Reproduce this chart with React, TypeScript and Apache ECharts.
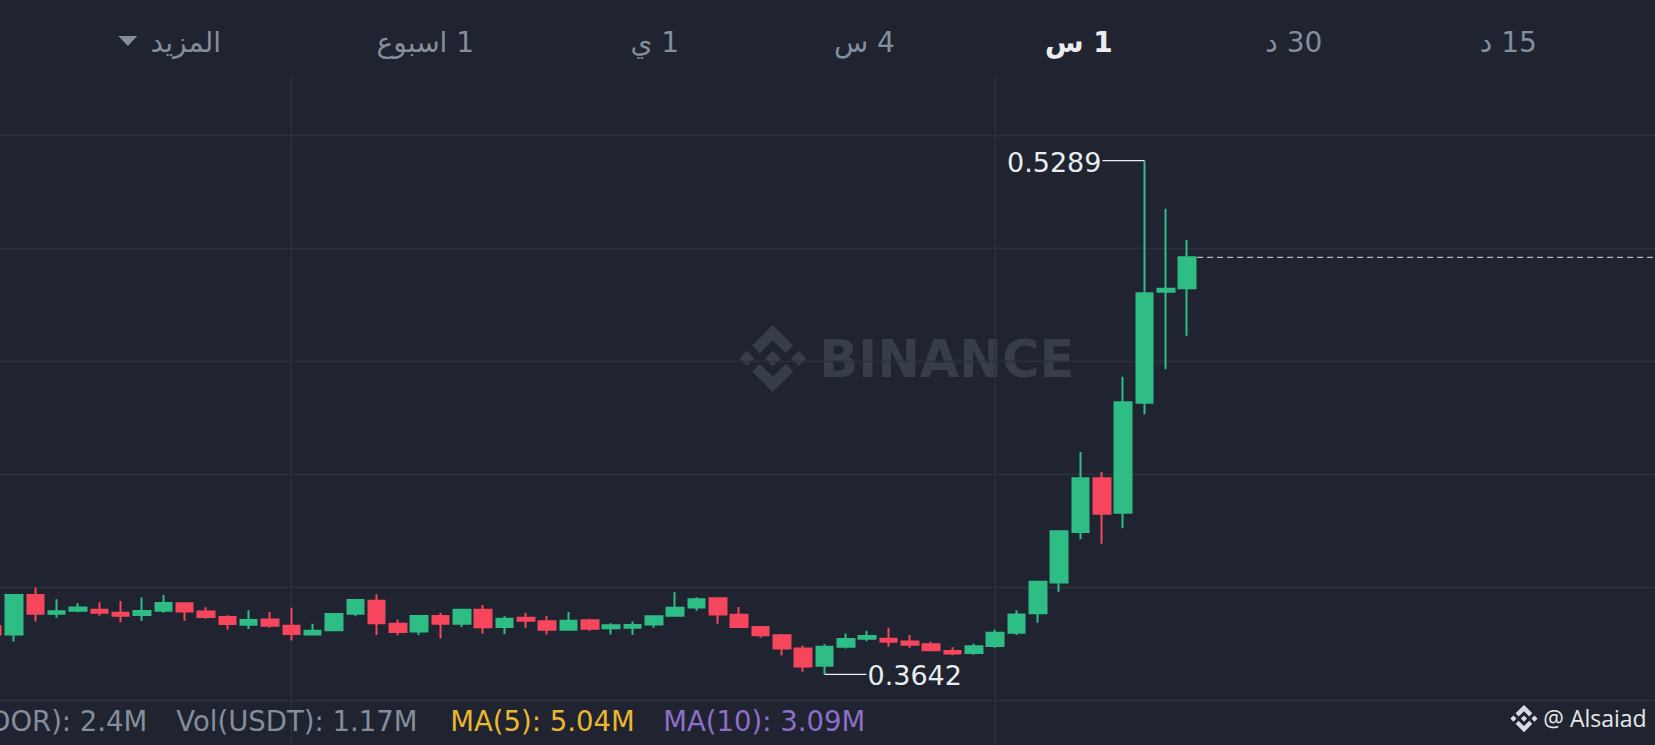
import React, { useEffect, useRef } from "react";
import * as echarts from "echarts";

// ---- data (1h candles) ----
const opens = [
  0.3797, 0.377, 0.3896, 0.3836, 0.3846, 0.3849, 0.3839, 0.3832, 0.3846, 0.387,
  0.3843, 0.3826, 0.3801, 0.3818, 0.3798, 0.377, 0.3783, 0.3836, 0.3878, 0.3804,
  0.3779, 0.3829, 0.3804, 0.3849, 0.3794, 0.3823, 0.3812, 0.3785, 0.3815, 0.379,
  0.3791, 0.3802, 0.383, 0.3856, 0.3886, 0.3833, 0.3794, 0.3767, 0.3725, 0.3669,
  0.373, 0.3756, 0.3756, 0.3747, 0.3738, 0.3717, 0.371, 0.3733, 0.3775, 0.3838,
  0.3936, 0.4098, 0.4271, 0.416, 0.4513, 0.4869, 0.488,
];
const closes = [
  0.377, 0.3896, 0.3836, 0.3844, 0.3856, 0.3839, 0.383, 0.3845, 0.3871, 0.3843,
  0.3826, 0.3803, 0.3816, 0.3798, 0.3771, 0.3782, 0.3835, 0.388, 0.3806, 0.3778,
  0.3829, 0.3804, 0.3849, 0.3793, 0.382, 0.3814, 0.3785, 0.3814, 0.3788, 0.3799,
  0.38, 0.3828, 0.3855, 0.3883, 0.3834, 0.3794, 0.3767, 0.3725, 0.3667, 0.373,
  0.3755, 0.3765, 0.3746, 0.3737, 0.3719, 0.3709, 0.3732, 0.3775, 0.3834, 0.3939,
  0.4101, 0.4271, 0.4157, 0.4514, 0.4864, 0.4878, 0.4979,
];
const highs = [
  0.381, 0.3897, 0.392, 0.3883, 0.3871, 0.3873, 0.3877, 0.3888, 0.3896, 0.3872,
  0.3857, 0.3831, 0.3847, 0.3842, 0.3855, 0.3804, 0.3838, 0.3883, 0.3899, 0.3818,
  0.3832, 0.3839, 0.3851, 0.3864, 0.3828, 0.3839, 0.3829, 0.3842, 0.382, 0.3806,
  0.3811, 0.383, 0.3905, 0.3889, 0.3889, 0.3858, 0.3796, 0.3771, 0.3734, 0.3738,
  0.3773, 0.3782, 0.3791, 0.3768, 0.3746, 0.3729, 0.374, 0.3785, 0.3847, 0.3941,
  0.4102, 0.4355, 0.4291, 0.4596, 0.5289, 0.5135, 0.5035,
];
const lows = [
  0.3762, 0.3747, 0.3811, 0.3823, 0.3841, 0.383, 0.3809, 0.3813, 0.3839, 0.3814,
  0.382, 0.3786, 0.3787, 0.3791, 0.375, 0.3769, 0.3782, 0.3828, 0.3768, 0.3767,
  0.3768, 0.3757, 0.3794, 0.3772, 0.3771, 0.3791, 0.377, 0.3784, 0.3781, 0.377,
  0.3768, 0.3791, 0.3829, 0.3846, 0.3804, 0.3793, 0.3759, 0.3702, 0.365, 0.3642,
  0.3725, 0.3748, 0.373, 0.3727, 0.3718, 0.3703, 0.3705, 0.3727, 0.3768, 0.3807,
  0.3907, 0.4075, 0.4061, 0.411, 0.4476, 0.462, 0.4728,
];
const EMPTY_SLOTS = 22; // future space on the right
const categories = [...opens, ...new Array(EMPTY_SLOTS).fill(0)].map((_, i) => String(i));
const verticalGridAt = [14, 47];

const tabs = ["15 د", "30 د", "1 س", "4 س", "1 ي", "1 اسبوع", "المزيد"];
const activeTab = "1 س";
const volumeTexts = ["Vol(DOR): 2.4M", "Vol(USDT): 1.17M", "MA(5): 5.04M", "MA(10): 3.09M"];
const watermark = "BINANCE";
const author = "@ Alsaiad";

// ---- styles / layout ----
const BG = "#1f2430";
const GRID = "#2c323d";
const UP = "#2ebd85";
const DOWN = "#f6465d";
const GRAY = "#848e9c";
const WHITE = "#eaecef";
const WM = "#373d49";

const PAGE_W = 1655;
const PAGE_H = 745;
const OFF_L = 18.333; // chart canvas starts left of the page so the first candle is cut
const OFF_R = 12;
const CHART_W = PAGE_W + OFF_L + OFF_R;
const X = (x: number) => x + OFF_L; // page x -> chart x

const LOGO_D =
  "M38.73 53.2L63.3 28.62L87.89 53.21L102.19 38.91L63.3 0L24.42 38.88Z " +
  "M0 63.31L14.3 49.01L28.6 63.31L14.3 77.61Z " +
  "M38.73 73.41L63.3 98L87.89 73.4L102.19 87.69L63.3 126.61L24.42 87.73Z " +
  "M98 63.31L112.3 49.01L126.6 63.31L112.3 77.61Z " +
  "M77.83 63.3L63.3 48.78L48.78 63.3L63.3 77.83Z";
try {
  echarts.graphic.registerShape("binanceLogo", echarts.graphic.extendPath(LOGO_D, {}));
} catch (e) {
  /* already registered */
}

const RLE = "\u202B";
const PDF = "\u202C";

export default function App() {
  const ref = useRef<HTMLDivElement>(null);

  useEffect(() => {
    document.documentElement.style.overflow = "hidden";
    document.body.style.margin = "0";
    document.body.style.overflow = "hidden";
    document.body.style.background = BG;
    const chart = echarts.init(ref.current!, null, { renderer: "svg" });

    const data = opens.map((o, i) => [o, closes[i], lows[i], highs[i]]);

    chart.setOption({
      animation: false,
      backgroundColor: BG,
      grid: [
        { left: 0, right: 0, top: 76, bottom: 0 },
        { left: 0, right: 0, top: 135, bottom: 45 },
      ],
      xAxis: [
        { type: "category", gridIndex: 0, data: categories, show: false, boundaryGap: true },
        { type: "value", gridIndex: 1, show: false, min: 0, max: 1 },
      ],
      yAxis: [
        { type: "value", gridIndex: 0, show: false, scale: true, min: 0.341526, max: 0.556061 },
        {
          type: "value",
          gridIndex: 1,
          min: 0,
          max: 5,
          interval: 1,
          axisLine: { show: false },
          axisTick: { show: false },
          axisLabel: { show: false },
          splitLine: { show: true, lineStyle: { color: GRID, width: 1.3 } },
        },
      ],
      series: [
        {
          type: "candlestick",
          xAxisIndex: 0,
          yAxisIndex: 0,
          data,
          barWidth: 17,
          z: 3,
          itemStyle: {
            color: UP,
            color0: DOWN,
            borderColor: UP,
            borderColor0: DOWN,
            borderWidth: 2,
          },
        },
      ],
    });

    const px = (i: number, v: number) =>
      chart.convertToPixel({ seriesIndex: 0 }, [i, v]) as number[];

    let hiIdx = 0;
    highs.forEach((h, i) => {
      if (h > highs[hiIdx]) hiIdx = i;
    });
    let loIdx = 0;
    lows.forEach((l, i) => {
      if (l < lows[loIdx]) loIdx = i;
    });
    const [hx, hy] = px(hiIdx, highs[hiIdx]);
    const [lx, ly] = px(loIdx, lows[loIdx]);
    const last = closes.length - 1;
    const [cx, cy] = px(last, closes[last]);

    const elements: any[] = [];

    // watermark
    elements.push({
      type: "binanceLogo",
      x: X(739),
      y: 325,
      scaleX: 0.529,
      scaleY: 0.529,
      z: -2,
      style: { fill: WM },
    });
    elements.push({
      type: "text",
      x: X(819),
      y: 359,
      z: -2,
      style: {
        text: watermark,
        fill: WM,
        fontSize: 51,
        fontWeight: "bold",
        fontFamily: "'DejaVu Sans', sans-serif",
        align: "left",
        verticalAlign: "middle",
      },
    });

    // vertical grid lines
    verticalGridAt.forEach((idx) => {
      const [vx] = px(idx, closes[idx]);
      elements.push({
        type: "line",
        z: 0,
        shape: { x1: vx, y1: 76, x2: vx, y2: PAGE_H },
        style: { stroke: GRID, lineWidth: 1.3 },
      });
    });

    // current price dashed line
    elements.push({
      type: "line",
      z: 10,
      shape: { x1: cx + 10, y1: cy, x2: X(PAGE_W), y2: cy },
      style: { stroke: "#b5bac2", lineWidth: 1.3, lineDash: [6, 4] },
    });

    // max / min annotations
    const labelFont = { fontSize: 27, fontFamily: "'DejaVu Sans', sans-serif" };
    elements.push({
      type: "line",
      z: 10,
      shape: { x1: hx - 42, y1: hy, x2: hx, y2: hy },
      style: { stroke: WHITE, lineWidth: 1.2 },
    });
    elements.push({
      type: "text",
      x: hx - 43,
      y: hy + 1.5,
      z: 10,
      style: {
        text: highs[hiIdx].toFixed(4),
        fill: WHITE,
        ...labelFont,
        align: "right",
        verticalAlign: "middle",
      },
    });
    elements.push({
      type: "line",
      z: 10,
      shape: { x1: lx, y1: ly, x2: lx + 42, y2: ly },
      style: { stroke: WHITE, lineWidth: 1.2 },
    });
    elements.push({
      type: "text",
      x: lx + 43,
      y: ly + 1.5,
      z: 10,
      style: {
        text: lows[loIdx].toFixed(4),
        fill: WHITE,
        ...labelFont,
        align: "left",
        verticalAlign: "middle",
      },
    });

    // header tabs
    const tabX = [1508, 1293.5, 1078.5, 864, 654.5, 425, 185.5];
    tabs.forEach((t, i) => {
      const active = t === activeTab;
      elements.push({
        type: "text",
        x: X(tabX[i]),
        y: 42,
        z: 10,
        style: {
          text: RLE + t + PDF,
          fill: active ? WHITE : GRAY,
          fontSize: 28,
          fontWeight: active ? "bold" : "normal",
          fontFamily: "'DejaVu Sans', sans-serif",
          align: "center",
          verticalAlign: "middle",
        },
      });
    });
    elements.push({
      type: "polygon",
      z: 10,
      shape: { points: [[X(118), 36], [X(137), 36], [X(127.5), 46]] },
      style: { fill: GRAY },
    });

    // volume legend
    const volX = [147, 176, 450, 663];
    const volAlign = ["right", "left", "left", "left"];
    const volColor = [GRAY, GRAY, "#e9b730", "#8d6fc8"];
    volumeTexts.forEach((t, i) => {
      elements.push({
        type: "text",
        x: X(volX[i]),
        y: 721,
        z: 10,
        style: {
          text: t,
          fill: volColor[i],
          fontSize: 27.5,
          fontFamily: "'DejaVu Sans', sans-serif",
          align: volAlign[i],
          verticalAlign: "middle",
        },
      });
    });

    // author mark
    elements.push({
      type: "binanceLogo",
      x: X(1510),
      y: 705,
      scaleX: 0.215,
      scaleY: 0.215,
      z: 10,
      style: { fill: "#d8dce2" },
    });
    elements.push({
      type: "text",
      x: X(1543),
      y: 718,
      z: 10,
      style: {
        text: author,
        fill: "#e6e8eb",
        fontSize: 23,
        fontFamily: "'Open Sans', sans-serif",
        align: "left",
        verticalAlign: "middle",
      },
    });

    chart.setOption({ graphic: { elements } });

    return () => chart.dispose();
  }, []);

  return (
    <div
      ref={ref}
      style={{ position: "absolute", left: -OFF_L, top: 0, width: CHART_W, height: PAGE_H }}
    />
  );
}
